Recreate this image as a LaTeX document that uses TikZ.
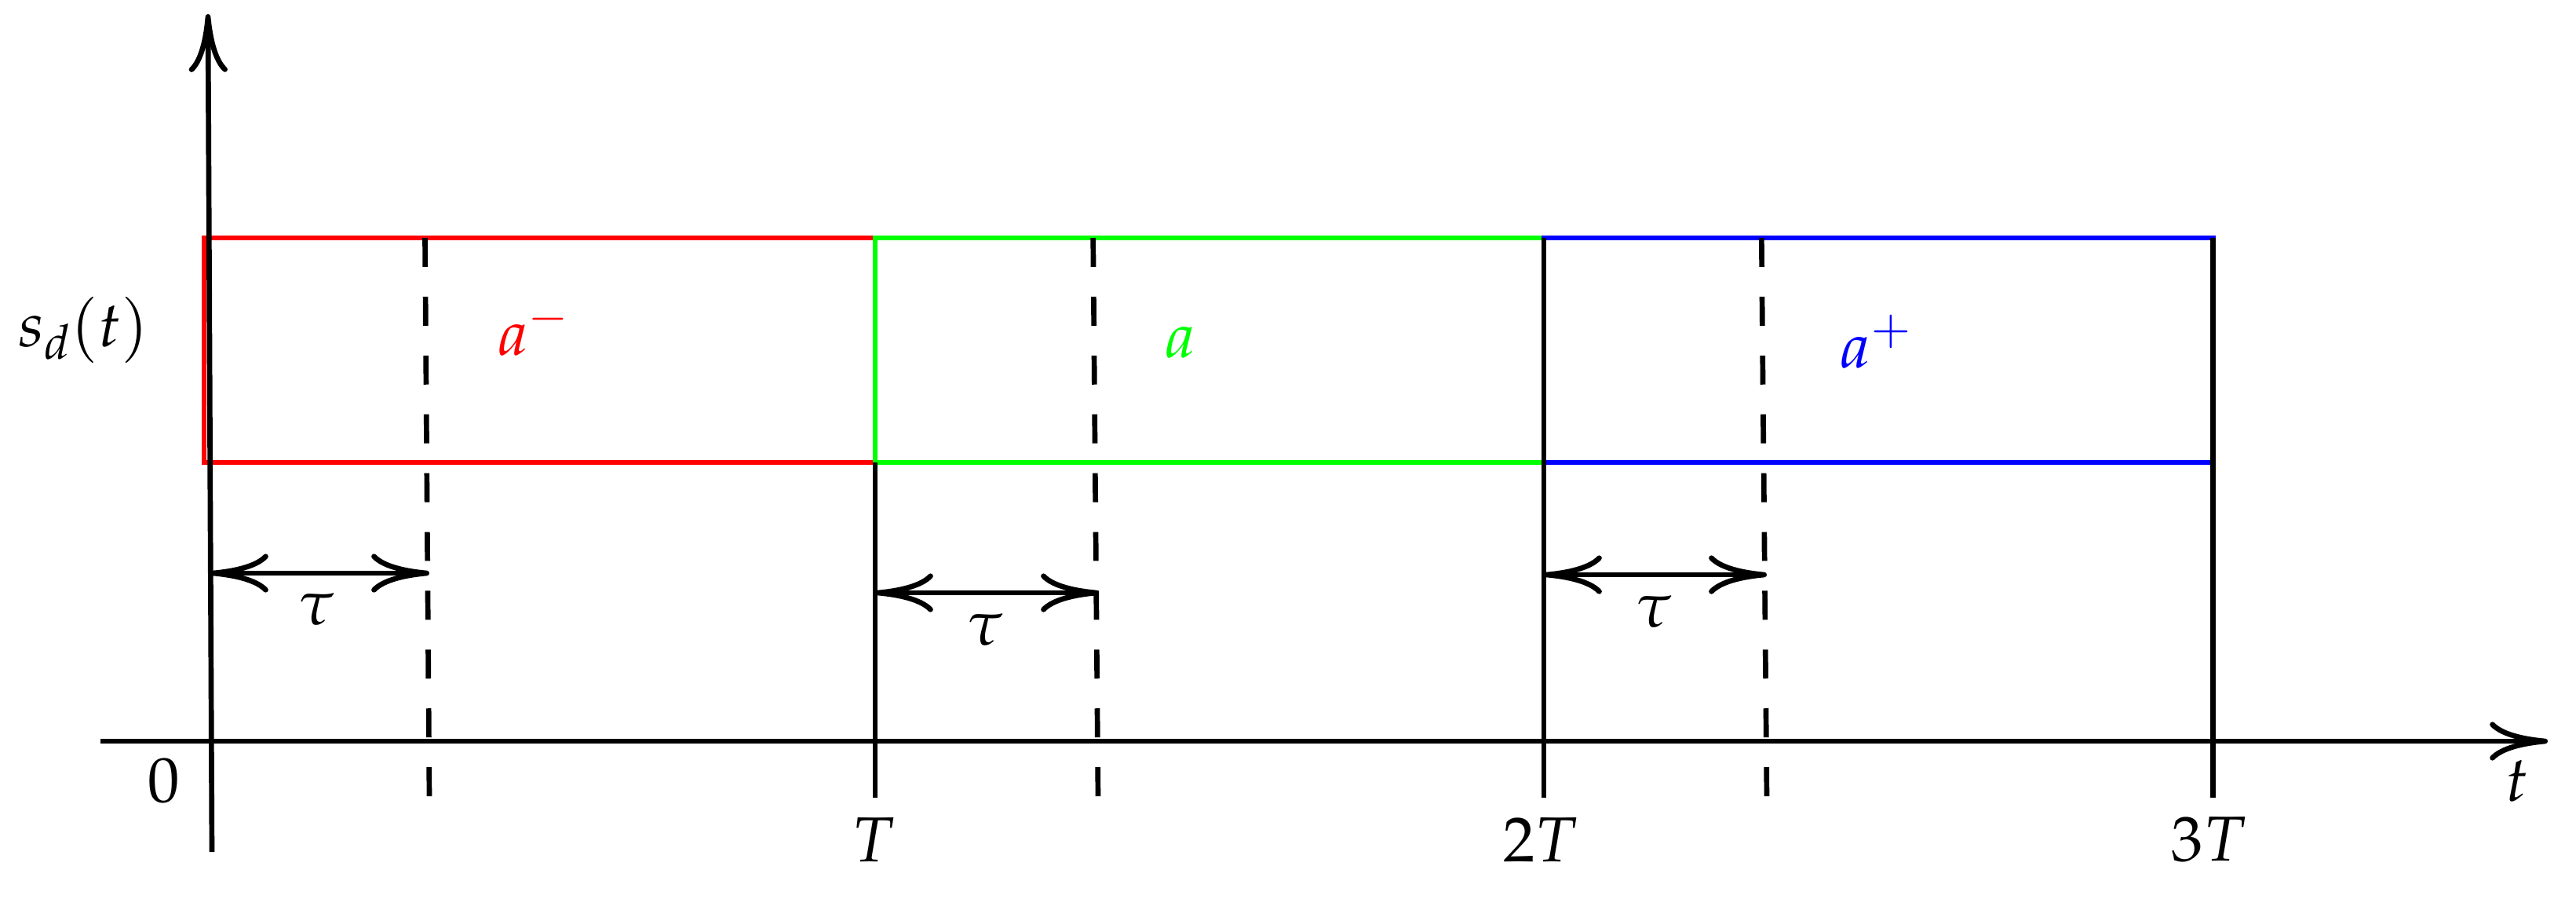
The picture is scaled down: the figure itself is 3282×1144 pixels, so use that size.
\documentclass[tikz,border=0pt]{standalone}
\usepackage{mathpazo}
\usetikzlibrary{arrows.meta}
\begin{document}
\begin{tikzpicture}[x=0.01cm,y=-0.01cm,
  line width=1.9pt,
  >={Computer Modern Rightarrow[length=21pt,width=14pt]},
  lbl/.style={inner sep=0pt,anchor=base,font=\fontsize{23}{28}\selectfont},
  dsh/.style={dash pattern=on 10.5pt off 10.8pt},
  box/.style={line width=1.9pt}
]
\useasboundingbox (0,0) rectangle (3282,1144);

% key coordinates
\coordinate (rA) at (260,303);
\coordinate (rB) at (1115,589);
\coordinate (gA) at (1115,303);
\coordinate (gB) at (1967,589);
\coordinate (bA) at (1967,303);
\coordinate (bB) at (2819.5,589);

% rectangles
\draw[box,red] (rA) rectangle (rB);
\draw[box,green] (gA) rectangle (gB);
\draw[box,blue] (bA) rectangle (bB);

% solid verticals
\coordinate (T1) at (1115,589);   \coordinate (T1b) at (1115,1016);
\coordinate (T2) at (1967,303);   \coordinate (T2b) at (1967,1016);
\coordinate (T3) at (2819.5,303); \coordinate (T3b) at (2819.5,1016);
\draw (T1) -- (T1b);
\draw (T2) -- (T2b);
\draw (T3) -- (T3b);

% dashed verticals
\coordinate (d1) at (541.5,303);  \coordinate (d1b) at (547,1016);
\coordinate (d2) at (1392.7,303); \coordinate (d2b) at (1399,1016);
\coordinate (d3) at (2244.3,303); \coordinate (d3b) at (2251,1016);
\draw[dsh] (d1) -- (d1b);
\draw[dsh] (d2) -- (d2b);
\draw[dsh] (d3) -- (d3b);

% axes
\coordinate (xl) at (128,944);   \coordinate (xr) at (3246,944);
\coordinate (yb) at (270,1085);  \coordinate (yt) at (265,18);
\draw[->] (xl) -- (xr);
\draw[->] (yb) -- (yt);

% tau arrows
\coordinate (a1l) at (268,730);  \coordinate (a1r) at (547,730);
\coordinate (a2l) at (1115,755); \coordinate (a2r) at (1400,755);
\coordinate (a3l) at (1967,732); \coordinate (a3r) at (2251,732);
\draw[<->] (a1l) -- (a1r);
\draw[<->] (a2l) -- (a2r);
\draw[<->] (a3l) -- (a3r);

% labels
\node[lbl] (sd) at (106,441) {$s_d(t)$};
\node[lbl,red] (am) at (680,452) {$a^-$};
\node[lbl,green] (a0) at (1504,455) {$a$};
\node[lbl,blue,anchor=base west] (ap) at (2341,468) {$a^+$};
\node[lbl] (tau1) at (404,795) {$\tau$};
\node[lbl] (tau2) at (1256,821) {$\tau$};
\node[lbl] (tau3) at (2107.5,798) {$\tau$};
\node[lbl] (zero) at (209,1021) {$0$};
\node[lbl] (lT) at (1112.5,1097) {$T$};
\node[lbl] (l2T) at (1962.5,1097) {$2T$};
\node[lbl] (l3T) at (2814,1096) {$3T$};
\node[lbl] (lt) at (3206.6,1020) {$t$};
\end{tikzpicture}
\end{document}
